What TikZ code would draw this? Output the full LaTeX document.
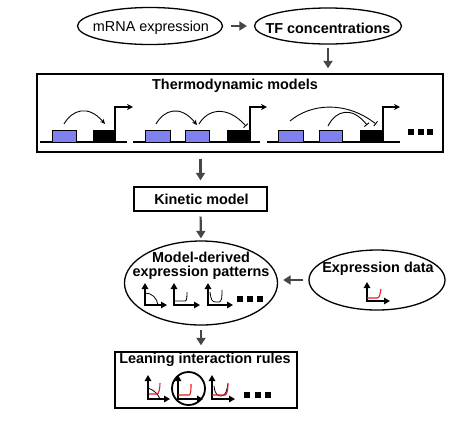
\documentclass[tikz,border=0pt]{standalone}
\usepackage{fontspec}
\setmainfont{Liberation Sans}
\usetikzlibrary{arrows.meta,shapes.geometric}
\definecolor{genecol}{RGB}{128,128,238}
\definecolor{flowgray}{RGB}{70,70,70}
\definecolor{fitred}{RGB}{228,28,40}
\begin{document}
\begin{tikzpicture}[x=1bp,y=-1bp,
  lbl/.style={font=\fontsize{14.4bp}{14.5bp}\selectfont\bfseries, inner sep=0, align=center},
  plainlbl/.style={font=\fontsize{14.4bp}{14.5bp}\selectfont, inner sep=0},
  ell/.style={draw, ellipse, line width=1.3bp, inner sep=0},
  box/.style={draw, rectangle, line width=1.4bp, inner sep=0},
  flow/.style={draw=flowgray, line width=2.2bp, -{Triangle[width=9bp,length=7.5bp]}},
  baseln/.style={line width=1.2bp},
  gene/.style={draw, line width=0.9bp, fill=genecol},
  prom/.style={line width=1.2bp, -{Stealth[length=6bp,width=6bp]}},
  act/.style={line width=0.9bp, -{Stealth[length=5bp,width=4.5bp]}},
  rep/.style={line width=0.9bp, -{Bar[width=6bp]}},
  axis/.style={line width=1.4bp, {Triangle[width=6.5bp,length=6bp]}-{Triangle[width=6.5bp,length=6bp]}},
  curve/.style={line width=0.8bp},
  redcurve/.style={line width=1.1bp, draw=fitred}
]
\useasboundingbox (0,0) rectangle (474,427);

% ---- top ellipses
\node[ell, minimum width=145bp, minimum height=37bp] (mrna) at (150,26) {};
\node[plainlbl] (mrnat) at (151,28) {mRNA expression};
\node[ell, minimum width=147bp, minimum height=36bp] (tf) at (328,26) {};
\node[lbl] (tft) at (328,28) {TF concentrations};

% ---- thermodynamic box
\node[box, minimum width=406bp, minimum height=78bp] (thermo) at (240,113) {};
\node[lbl] (thermot) at (235,86) {Thermodynamic models};

% segment 1
\draw[baseln] (40,142) -- (127,142);
\draw[gene] (52,130) rectangle (76,142);
\fill (93,130) rectangle (115,142);
\draw[prom] (115,142) |- (133,107);
\draw[act] (64,124) .. controls (72,110) and (88,104) .. (105,124);
% segment 2
\draw[baseln] (133,142) -- (260,142);
\draw[gene] (145,130) rectangle (170,142);
\draw[gene] (185,130) rectangle (209,142);
\fill (227,130) rectangle (250,142);
\draw[prom] (250,142) |- (267,107);
\draw[act] (156,124) .. controls (164,110) and (180,104) .. (197,125);
\draw[rep] (199,124) .. controls (207,110) and (226,104) .. (246,126);
% segment 3
\draw[baseln] (267,142) -- (400,142);
\draw[gene] (278,130) rectangle (303,142);
\draw[gene] (319,130) rectangle (342,142);
\fill (360,130) rectangle (383,142);
\draw[prom] (383,142) |- (400,107);
\draw[rep] (290,121) .. controls (310,104) and (345,100) .. (376,124);
\draw[rep] (328,126) .. controls (336,110) and (352,106) .. (367,125);
\foreach \cx in {411,420.5,430} \fill (\cx-3,129) rectangle (\cx+3,135);

% ---- kinetic model
\node[box, minimum width=133bp, minimum height=24bp] (kin) at (200.5,199) {};
\node[lbl] (kint) at (201.5,199) {Kinetic model};

% ---- model-derived patterns
\node[ell, minimum width=153bp, minimum height=84bp] (model) at (201,283) {};
\node[lbl] (modelt) at (201,266) {Model-derived\\expression patterns};
\draw[axis] (145,283) |- (167,305);
\draw[curve] (145,293) .. controls (152,293) and (157,298) .. (158,305);
\draw[axis] (174,283) |- (200,305);
\draw[curve] (174,301) -- (185,301) .. controls (187,301) and (187,296) .. (187,292);
\draw[axis] (208,283) |- (233,305);
\draw[curve] (210,292) .. controls (211,300) and (212,302) .. (216,302) -- (219,302) .. controls (222,302) and (222,296) .. (222,290);
\foreach \cx in {240,250,260} \fill (\cx-3,296) rectangle (\cx+3,302);

% ---- expression data
\node[ell, minimum width=136bp, minimum height=60bp] (expr) at (377,280) {};
\node[lbl] (exprt) at (378,269) {Expression data};
\draw[axis] (367,282) |- (390,301);
\draw[redcurve] (367,298) -- (377,298) .. controls (380,298) and (380,293) .. (381,289);

% ---- learning box
\node[box, minimum width=182bp, minimum height=56bp] (learn) at (206,380) {};
\node[lbl] (learnt) at (205,360) {Leaning interaction rules};
\draw[axis] (148,375) |- (170,399);
\draw[curve] (148,388) .. controls (154,390) and (158,394) .. (160,399);
\draw[redcurve] (149,394) -- (157,394) .. controls (159,394) and (160,388) .. (160,383);
\draw[axis] (178,375) |- (203,399);
\draw[redcurve] (178,395) -- (189,395) .. controls (191,395) and (191,389) .. (191,384);
\draw[axis] (212,375) |- (235,399);
\draw[curve] (214,386) .. controls (215,395) and (218,396) .. (221,396) .. controls (226,396) and (227,390) .. (228,383);
\draw[redcurve] (212,395) -- (225,395) .. controls (227,395) and (228,389) .. (228,384);
\draw[line width=1.8bp] (188.5,388.5) circle[radius=16.5];
\foreach \cx in {247,257.5,268} \fill (\cx-3,392) rectangle (\cx+3,398);

% ---- connectors
\draw[flow, shorten <=8bp, shorten >=7bp] (mrna.east) -- (tf.west);
\draw[flow, shorten <=3bp, shorten >=5bp] (tf.south) -- (tf.south |- thermo.north);
\draw[flow, shorten <=6bp, shorten >=6bp] (thermo.south -| kin.north) -- (kin.north);
\draw[flow, shorten <=5bp, shorten >=2bp] (kin.south) -- (model.north);
\draw[flow, shorten <=4bp, shorten >=6bp] (model.south) -- (model.south |- learn.north);
\draw[flow, shorten <=5bp, shorten >=5bp] (expr.west) -- (expr.west -| model.east);
\end{tikzpicture}
\end{document}
